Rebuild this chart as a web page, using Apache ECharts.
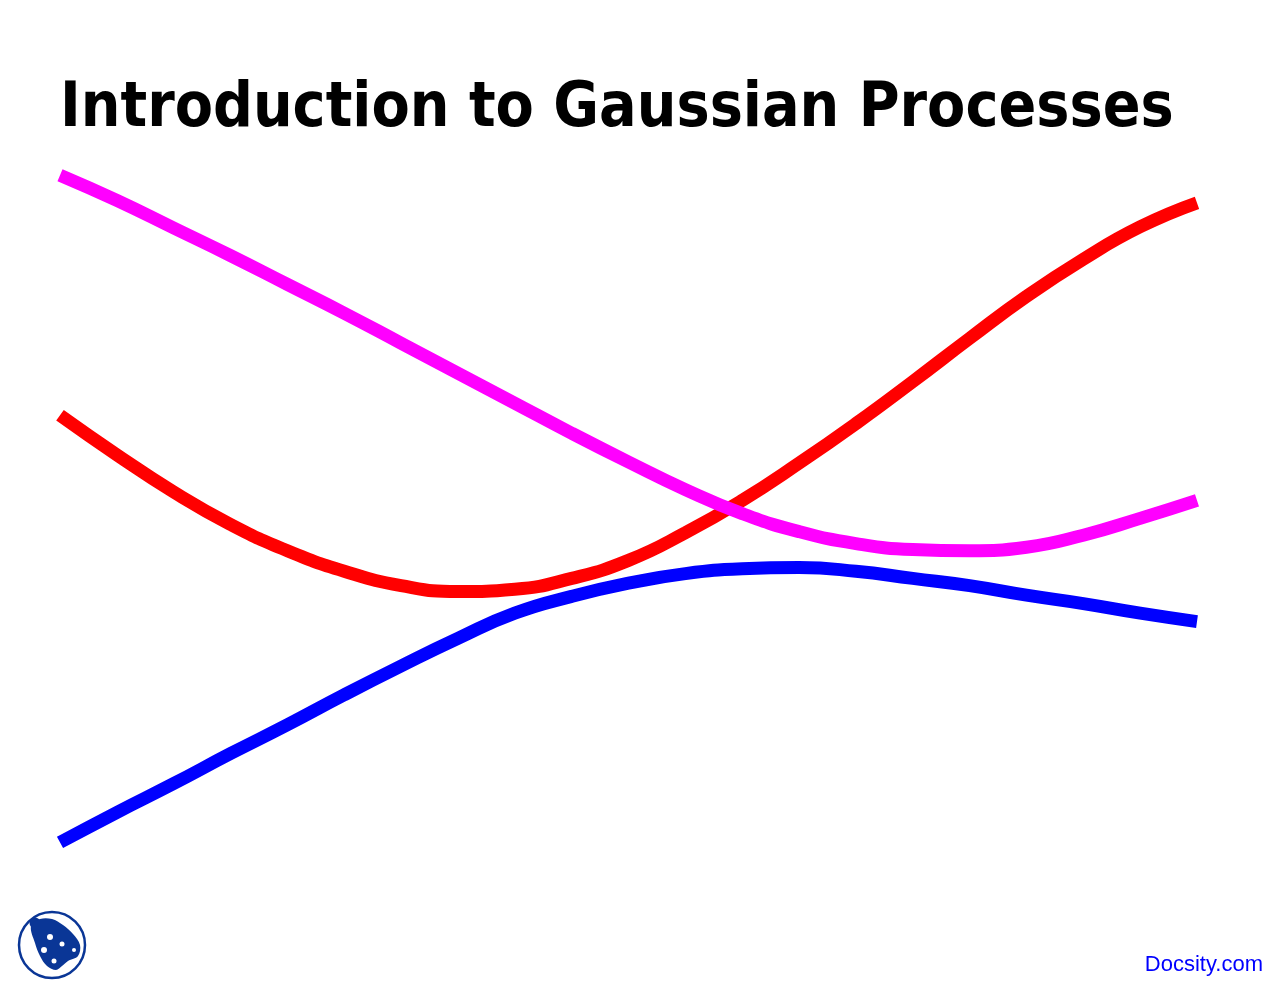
<!DOCTYPE html>
<html>
<head>
<meta charset="utf-8">
<script src="https://cdn.jsdelivr.net/npm/echarts@6/dist/echarts.min.js"></script>
<style>
html,body{margin:0;padding:0;background:#fff;}
#chart{width:1280px;height:989px;}
</style>
</head>
<body>
<div id="chart"></div>
<script>
// x positions of the sampled points (input domain 0..10)
const xs = [0,0.5,1,1.5,2,2.5,3,3.5,4,4.5,5,5.5,6,6.5,7,7.5,8,8.5,9,9.5,10];
const magentaVals = [2.79,2.58,2.35,2.12,1.88,1.64,1.39,1.14,0.89,0.64,0.40,0.17,-0.03,-0.18,-0.28,-0.33,-0.34,-0.31,-0.21,-0.07,0.08];
const redVals     = [0.79,0.46,0.15,-0.12,-0.34,-0.51,-0.63,-0.68,-0.66,-0.57,-0.42,-0.19,0.08,0.39,0.72,1.07,1.43,1.78,2.09,2.36,2.56];
const blueVals    = [-2.77,-2.52,-2.28,-2.03,-1.79,-1.54,-1.30,-1.07,-0.86,-0.72,-0.61,-0.53,-0.49,-0.48,-0.51,-0.57,-0.63,-0.71,-0.78,-0.86,-0.93];

const titleText = 'Introduction to Gaussian Processes';
const footerText = 'Docsity.com';

function pairs(vals){ return xs.map((x,i)=>[x, vals[i]]); }

// fit the title font to the width it has in the reference
const titleFont = '"DejaVu Sans Condensed", "DejaVu Sans", sans-serif';
const cv = document.createElement('canvas').getContext('2d');
cv.font = 'bold 100px ' + titleFont;
const w100 = cv.measureText(titleText).width;
const titleSize = Math.min(66, Math.round(100 * 1112 / w100));

const chart = echarts.init(document.getElementById('chart'));
const logoColor = '#0a3696';
chart.setOption({
  animation: false,
  backgroundColor: '#ffffff',
  grid: { left: 60, right: 83, top: 150, height: 720 },
  xAxis: { type: 'value', min: 0, max: 10, show: false },
  yAxis: { type: 'value', min: -3, max: 3, show: false },
  series: [
    { type: 'line', data: pairs(blueVals), smooth: 0.5, showSymbol: false,
      lineStyle: { color: '#0000ff', width: 13, cap: 'butt' } },
    { type: 'line', data: pairs(redVals), smooth: 0.5, showSymbol: false,
      lineStyle: { color: '#ff0000', width: 13, cap: 'butt' } },
    { type: 'line', data: pairs(magentaVals), smooth: 0.5, showSymbol: false,
      lineStyle: { color: '#ff00ff', width: 13, cap: 'butt' } }
  ],
  graphic: [
    { type: 'text', x: 60, y: 141,
      style: { text: titleText, fill: '#000', font: 'bold ' + titleSize + 'px ' + titleFont, verticalAlign: 'bottom' } },
    { type: 'text', x: 1263, y: 976,
      style: { text: footerText, fill: '#0000ff', font: '22px "Liberation Sans"', align: 'right', verticalAlign: 'bottom' } },
    { type: 'circle', shape: { cx: 52, cy: 945, r: 33 },
      style: { fill: 'none', stroke: logoColor, lineWidth: 2.5 } },
    { type: 'circle', shape: { cx: 35, cy: 923, r: 5.5 }, style: { fill: logoColor } },
    { type: 'polygon',
      shape: { smooth: 0.35, points: [[31,926],[40,919],[52,919],[63,925],[73,934],[80,945],[78,956],[68,961],[62,966],[56,970],[47,966],[40,956],[35,943]] },
      style: { fill: logoColor } },
    { type: 'circle', shape: { cx: 50, cy: 937, r: 3 }, style: { fill: '#fff' } },
    { type: 'circle', shape: { cx: 44, cy: 950, r: 3 }, style: { fill: '#fff' } },
    { type: 'circle', shape: { cx: 62, cy: 944, r: 2.5 }, style: { fill: '#fff' } },
    { type: 'circle', shape: { cx: 74, cy: 950, r: 2 }, style: { fill: '#fff' } },
    { type: 'circle', shape: { cx: 54, cy: 961, r: 2.5 }, style: { fill: '#fff' } }
  ]
});
</script>
</body>
</html>
